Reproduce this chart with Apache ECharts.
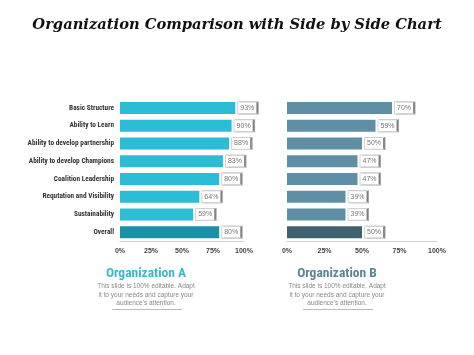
<!DOCTYPE html>
<html><head><meta charset="utf-8">
<script src="https://cdn.jsdelivr.net/npm/echarts@6/dist/echarts.min.js"></script>
<style>html,body{margin:0;padding:0;background:#fff}#c{width:474px;height:355px}</style>
</head><body><div id="c"></div>
<script>
var categories = ['Basic Structure','Ability to Learn','Ability to develop partnership','Ability to develop Champions','Coalition Leadership','Requtation and Visibility','Sustainability','Overall'];
var orgA = [93, 90, 88, 83, 80, 64, 59, 80];
var orgB = [70, 59, 50, 47, 47, 39, 39, 50];
var tickLabels = ['0%','25%','50%','75%','100%'];
var titleText = 'Organization Comparison with Side by Side Chart';
var nameA = 'Organization A', nameB = 'Organization B';
var descLines = ['This slide is 100% editable. Adapt','it to your needs and capture your',"audience's attention."];

var colA = '#2BBDD5', colAOverall = '#1B90A7';
var colB = '#5F8FA5', colBOverall = '#40626F';
var condensed = '"Roboto Condensed","DejaVu Sans Condensed","Liberation Sans",sans-serif';

function mkData(vals, c, cLast){
  return vals.map(function(v,i){ return {value:v, itemStyle:{color: i===vals.length-1 ? cLast : c}}; });
}
var labelStyle = {
  show:true, position:'right', distance:3, formatter:'{c}%',
  fontSize:7, color:'#777', fontFamily:'Liberation Sans',
  backgroundColor:'#fff', borderColor:'#d4d4d4', borderWidth:1,
  padding:[2,2,2,2], shadowColor:'rgba(0,0,0,0.35)', shadowOffsetX:1.5, shadowOffsetY:0, shadowBlur:0
};
function xAx(idx){
  return {gridIndex:idx, type:'value', min:0, max:100, interval:25,
    axisLine:{show:true, lineStyle:{color:'#cfcfcf'}}, axisTick:{show:false}, splitLine:{show:false},
    axisLabel:{formatter:function(v){return tickLabels[v/25];}, fontSize:7, fontWeight:'bold', color:'#444', fontFamily:'Liberation Sans', margin:7}};
}
var chart = echarts.init(document.getElementById('c'));
chart.setOption({
  animation:false,
  title:{text:titleText, left:'center', top:13,
    textStyle:{fontFamily:'DejaVu Serif', fontStyle:'italic', fontWeight:'bold', fontSize:14.7, color:'#111'}},
  grid:[{left:120, width:124, top:99, height:142},{left:287, width:150, top:99, height:142}],
  xAxis:[xAx(0), xAx(1)],
  yAxis:[
    {gridIndex:0, type:'category', data:categories, inverse:true, axisLine:{show:false}, axisTick:{show:false},
     axisLabel:{fontSize:7.3, fontWeight:'bold', color:'#333', fontFamily:condensed, margin:6}},
    {gridIndex:1, type:'category', data:categories, inverse:true, axisLine:{show:false}, axisTick:{show:false}, axisLabel:{show:false}}
  ],
  series:[
    {type:'bar', xAxisIndex:0, yAxisIndex:0, data:mkData(orgA, colA, colAOverall), barWidth:12, label:labelStyle},
    {type:'bar', xAxisIndex:1, yAxisIndex:1, data:mkData(orgB, colB, colBOverall), barWidth:12, label:labelStyle}
  ],
  graphic:[
    {type:'text', x:146, y:274, style:{text:nameA, align:'center', verticalAlign:'middle', fill:'#3BB9CB', fontSize:13.5, fontWeight:'bold', fontFamily:condensed}},
    {type:'text', x:337, y:274, style:{text:nameB, align:'center', verticalAlign:'middle', fill:'#5B8594', fontSize:13.5, fontWeight:'bold', fontFamily:condensed}},
    {type:'text', x:146, y:295, style:{text:descLines.join('\n'), align:'center', verticalAlign:'middle', fill:'#888', fontSize:6.5, lineHeight:8.7, fontFamily:'Liberation Sans'}},
    {type:'text', x:337, y:295, style:{text:descLines.join('\n'), align:'center', verticalAlign:'middle', fill:'#888', fontSize:6.5, lineHeight:8.7, fontFamily:'Liberation Sans'}},
    {type:'line', shape:{x1:112, y1:309.5, x2:182, y2:309.5}, style:{stroke:'#bbb', lineWidth:1}},
    {type:'line', shape:{x1:303, y1:309.5, x2:373, y2:309.5}, style:{stroke:'#bbb', lineWidth:1}}
  ]
});
</script></body></html>
